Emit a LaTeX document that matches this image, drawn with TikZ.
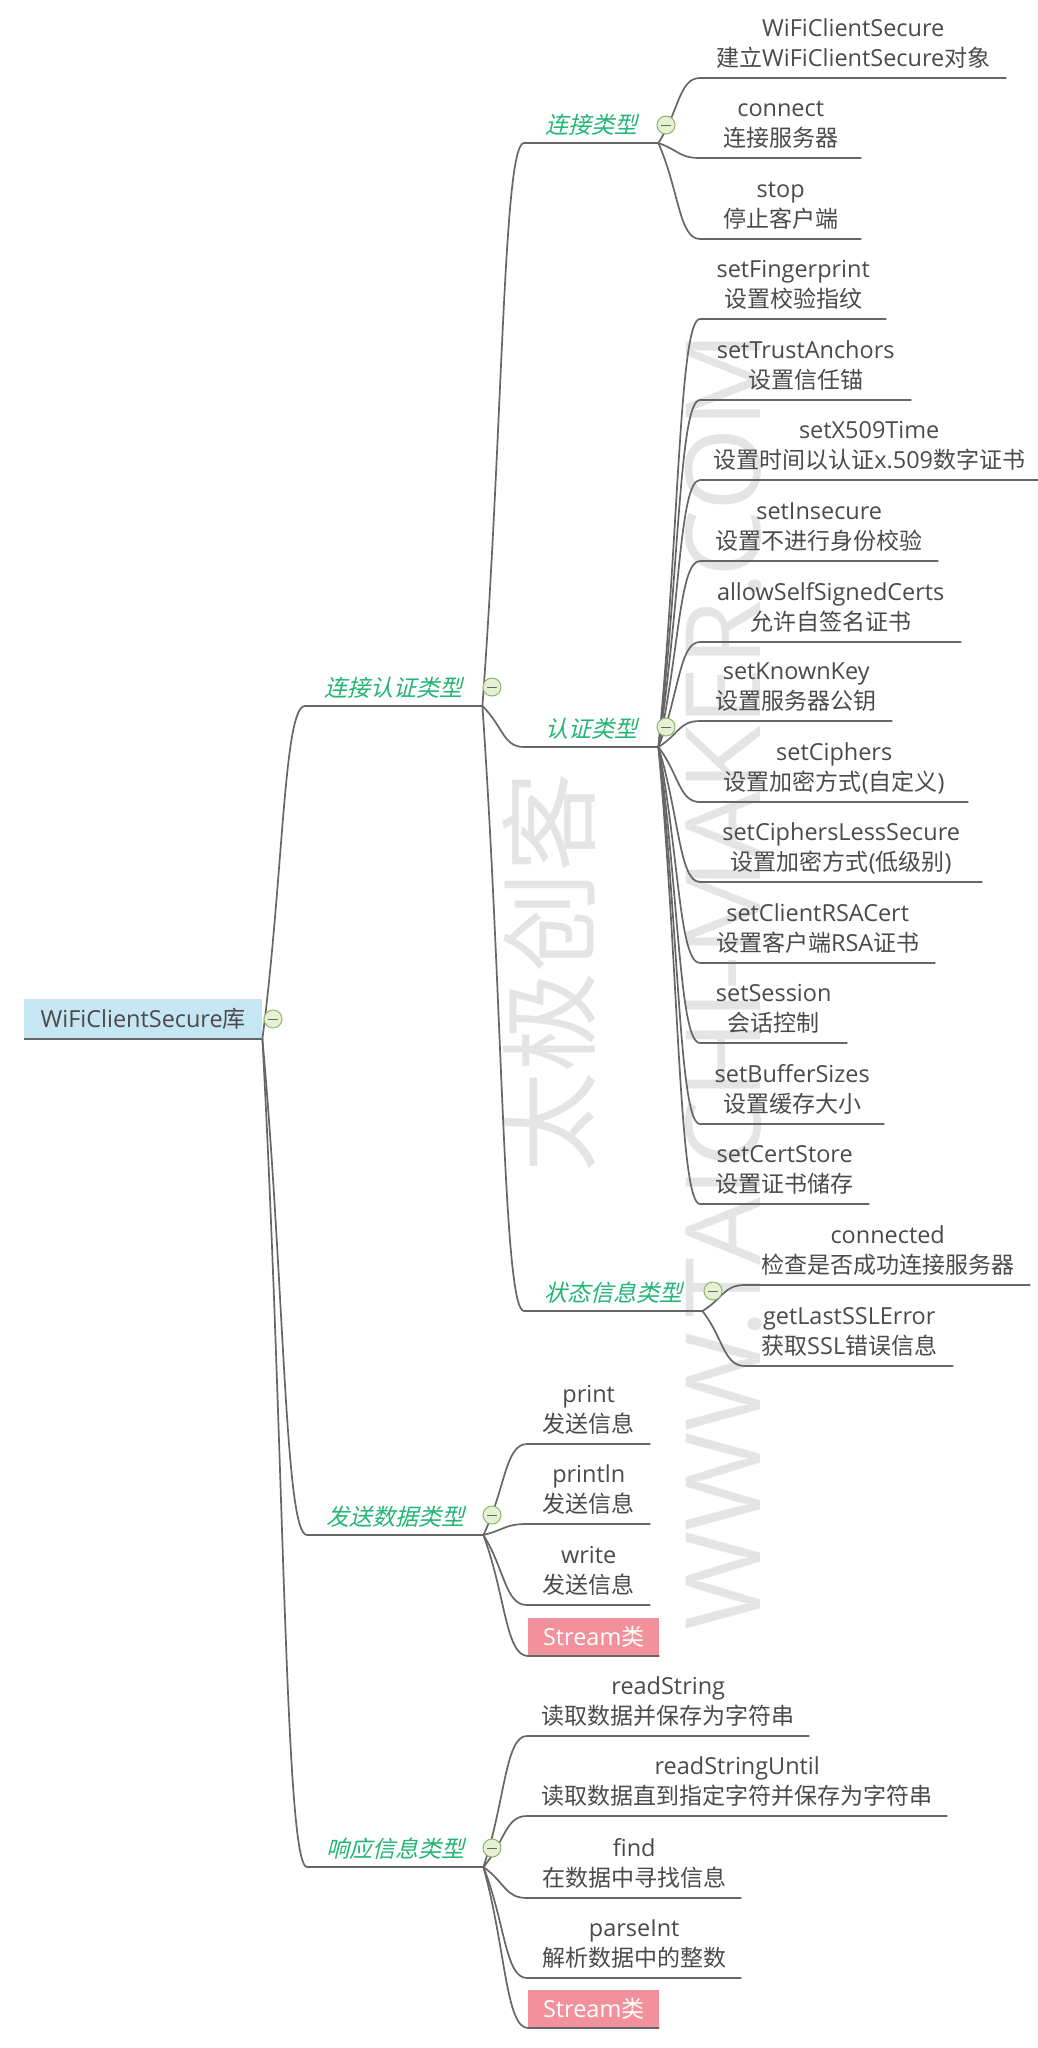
\documentclass[tikz,border=0pt]{standalone}
\usepackage{fontspec}
\setmainfont{Open Sans}[Scale=1.02]
\newfontfamily\cjk{Noto Sans CJK SC}
\newfontfamily\cjkslant[FakeSlant=0.25]{Noto Sans CJK SC}
\usetikzlibrary{calc}
\definecolor{limbgray}{HTML}{666666}
\definecolor{inkgray}{HTML}{4A4A4A}
\definecolor{markgray}{HTML}{E4E4E4}
\definecolor{rootblue}{HTML}{C6E6F3}
\definecolor{kindgreen}{HTML}{22B573}
\definecolor{streampink}{HTML}{F2919B}
\definecolor{foldfill}{HTML}{E6F0D2}
\definecolor{foldedge}{HTML}{8DB56E}
\tikzset{
    limb/.style={draw=limbgray, line width=1.7pt},
    sprout/.style={to path={.. controls ($(\tikztostart)!0.5!(\tikztotarget)$) and ($(\tikztostart |- \tikztotarget)!0.5!(\tikztotarget)$) .. (\tikztotarget)}},
    leaf/.style={anchor=south west, align=center, inner xsep=0pt, inner ysep=8pt, text depth=3pt, text=inkgray,
        font=\fontsize{23}{30}\selectfont},
    kind/.style={anchor=south west, inner xsep=0pt, inner ysep=6pt, text depth=3pt, text=kindgreen,
        font=\fontsize{23}{30}\selectfont\cjkslant},
    stream/.style={anchor=south west, inner sep=0pt, minimum width=131pt, minimum height=38pt, fill=streampink,
        text=white, font=\fontsize{23}{30}\selectfont},
    fold/.style={circle, inner sep=0pt, minimum size=18pt, draw=foldedge, fill=foldfill, line width=1pt,
        path picture={\draw[limbgray, line width=1pt] ($(path picture bounding box.center)+(-5,0)$) -- ++(10,0);}},
    watermark/.style={rotate=90, text=markgray, inner sep=0pt},
}
\begin{document}
\begin{tikzpicture}[x=1pt, y=-1pt]
    \useasboundingbox (0,0) rectangle (1038,2048);

    % watermark
    \node[watermark, font=\fontsize{100}{100}\selectfont\cjk] (markCn) at (549,972) {太极创客};
    \node[watermark, xscale=1.03, font=\fontsize{102}{102}\selectfont] (markEn) at (724,981) {WWW.TAICHI-MAKER.COM};

    \node[anchor=south west, inner xsep=0pt, inner ysep=0pt, minimum width=238pt, minimum height=40pt, fill=rootblue,
        text=inkgray, font=\fontsize{23}{30}\selectfont] (root) at (24,1039) {WiFiClientSecure{\cjk 库}};

    \node[kind, minimum width=177pt] (authKind) at (305,706) {连接认证类型};
    \node[kind, minimum width=176pt] (sendKind) at (307,1535) {发送数据类型};
    \node[kind, minimum width=176pt] (respKind) at (307,1867) {响应信息类型};

    \node[kind, minimum width=134pt] (connKind) at (524,143) {连接类型};
    \node[kind, minimum width=134pt] (certKind) at (524,747) {认证类型};
    \node[kind, minimum width=178pt] (statKind) at (524,1311) {状态信息类型};

    \node[leaf, minimum width=306pt] (clientFn) at (700,78) {WiFiClientSecure\\{\cjk 建立}WiFiClientSecure{\cjk 对象}};
    \node[leaf, minimum width=161pt] (connectFn) at (700,158) {connect\\{\cjk 连接服务器}};
    \node[leaf, minimum width=161pt] (stopFn) at (700,239) {stop\\{\cjk 停止客户端}};

    \node[leaf, minimum width=186pt] (fingerFn) at (700,319) {setFingerprint\\{\cjk 设置校验指纹}};
    \node[leaf, minimum width=211pt] (anchorFn) at (700,400) {setTrustAnchors\\{\cjk 设置信任锚}};
    \node[leaf, minimum width=338pt] (timeFn) at (700,480) {setX509Time\\{\cjk 设置时间以认证}x.509{\cjk 数字证书}};
    \node[leaf, minimum width=238pt] (insecureFn) at (700,561) {setInsecure\\{\cjk 设置不进行身份校验}};
    \node[leaf, minimum width=261pt] (selfFn) at (700,642) {allowSelfSignedCerts\\{\cjk 允许自签名证书}};
    \node[leaf, minimum width=192pt] (keyFn) at (700,721) {setKnownKey\\{\cjk 设置服务器公钥}};
    \node[leaf, minimum width=268pt] (cipherFn) at (700,802) {setCiphers\\{\cjk 设置加密方式}({\cjk 自定义})};
    \node[leaf, minimum width=282pt] (lessFn) at (700,882) {setCiphersLessSecure\\{\cjk 设置加密方式}({\cjk 低级别})};
    \node[leaf, minimum width=235pt] (rsaFn) at (700,963) {setClientRSACert\\{\cjk 设置客户端}RSA{\cjk 证书}};
    \node[leaf, minimum width=147pt] (sessionFn) at (700,1043) {setSession\\{\cjk 会话控制}};
    \node[leaf, minimum width=184pt] (bufferFn) at (700,1124) {setBufferSizes\\{\cjk 设置缓存大小}};
    \node[leaf, minimum width=169pt] (storeFn) at (700,1204) {setCertStore\\{\cjk 设置证书储存}};

    \node[leaf, minimum width=285pt] (connectedFn) at (745,1285) {connected\\{\cjk 检查是否成功连接服务器}};
    \node[leaf, minimum width=208pt] (sslFn) at (745,1366) {getLastSSLError\\{\cjk 获取}SSL{\cjk 错误信息}};

    \node[leaf, minimum width=123pt] (printFn) at (527,1444) {print\\{\cjk 发送信息}};
    \node[leaf, minimum width=123pt] (printlnFn) at (527,1524) {println\\{\cjk 发送信息}};
    \node[leaf, minimum width=123pt] (writeFn) at (527,1605) {write\\{\cjk 发送信息}};
    \node[stream] (sendStream) at (528,1656) {Stream{\cjk 类}};

    \node[leaf, minimum width=282pt] (readFn) at (527,1736) {readString\\{\cjk 读取数据并保存为字符串}};
    \node[leaf, minimum width=420pt] (untilFn) at (527,1816) {readStringUntil\\{\cjk 读取数据直到指定字符并保存为字符串}};
    \node[leaf, minimum width=214pt] (findFn) at (527,1898) {find\\{\cjk 在数据中寻找信息}};
    \node[leaf, minimum width=214pt] (parseFn) at (527,1978) {parseInt\\{\cjk 解析数据中的整数}};
    \node[stream] (respStream) at (528,2028) {Stream{\cjk 类}};

    \draw[limb] (root.south west) -- (root.south east);
    \draw[limb] (root.south east) to[sprout] (authKind.south west) -- (authKind.south east);
    \draw[limb] (root.south east) to[sprout] (sendKind.south west) -- (sendKind.south east);
    \draw[limb] (root.south east) to[sprout] (respKind.south west) -- (respKind.south east);

    \draw[limb] (authKind.south east) to[sprout] (connKind.south west) -- (connKind.south east);
    \draw[limb] (authKind.south east) to[sprout] (certKind.south west) -- (certKind.south east);
    \draw[limb] (authKind.south east) to[sprout] (statKind.south west) -- (statKind.south east);

    \draw[limb] (connKind.south east) to[sprout] (clientFn.south west) -- (clientFn.south east);
    \draw[limb] (connKind.south east) to[sprout] (connectFn.south west) -- (connectFn.south east);
    \draw[limb] (connKind.south east) to[sprout] (stopFn.south west) -- (stopFn.south east);

    \draw[limb] (certKind.south east) to[sprout] (fingerFn.south west) -- (fingerFn.south east);
    \draw[limb] (certKind.south east) to[sprout] (anchorFn.south west) -- (anchorFn.south east);
    \draw[limb] (certKind.south east) to[sprout] (timeFn.south west) -- (timeFn.south east);
    \draw[limb] (certKind.south east) to[sprout] (insecureFn.south west) -- (insecureFn.south east);
    \draw[limb] (certKind.south east) to[sprout] (selfFn.south west) -- (selfFn.south east);
    \draw[limb] (certKind.south east) to[sprout] (keyFn.south west) -- (keyFn.south east);
    \draw[limb] (certKind.south east) to[sprout] (cipherFn.south west) -- (cipherFn.south east);
    \draw[limb] (certKind.south east) to[sprout] (lessFn.south west) -- (lessFn.south east);
    \draw[limb] (certKind.south east) to[sprout] (rsaFn.south west) -- (rsaFn.south east);
    \draw[limb] (certKind.south east) to[sprout] (sessionFn.south west) -- (sessionFn.south east);
    \draw[limb] (certKind.south east) to[sprout] (bufferFn.south west) -- (bufferFn.south east);
    \draw[limb] (certKind.south east) to[sprout] (storeFn.south west) -- (storeFn.south east);

    \draw[limb] (statKind.south east) to[sprout] (connectedFn.south west) -- (connectedFn.south east);
    \draw[limb] (statKind.south east) to[sprout] (sslFn.south west) -- (sslFn.south east);

    \draw[limb] (sendKind.south east) to[sprout] (printFn.south west) -- (printFn.south east);
    \draw[limb] (sendKind.south east) to[sprout] (printlnFn.south west) -- (printlnFn.south east);
    \draw[limb] (sendKind.south east) to[sprout] (writeFn.south west) -- (writeFn.south east);
    \draw[limb] (sendKind.south east) to[sprout] (sendStream.south west) -- (sendStream.south east);

    \draw[limb] (respKind.south east) to[sprout] (readFn.south west) -- (readFn.south east);
    \draw[limb] (respKind.south east) to[sprout] (untilFn.south west) -- (untilFn.south east);
    \draw[limb] (respKind.south east) to[sprout] (findFn.south west) -- (findFn.south east);
    \draw[limb] (respKind.south east) to[sprout] (parseFn.south west) -- (parseFn.south east);
    \draw[limb] (respKind.south east) to[sprout] (respStream.south west) -- (respStream.south east);

    \node[fold] (rootFold) at (273,1019) {};
    \node[fold] (authFold) at (492,687) {};
    \node[fold] (sendFold) at (492,1515) {};
    \node[fold] (respFold) at (492,1848) {};
    \node[fold] (connFold) at (666,125) {};
    \node[fold] (certFold) at (666,727) {};
    \node[fold] (statFold) at (713,1291) {};
\end{tikzpicture}
\end{document}
